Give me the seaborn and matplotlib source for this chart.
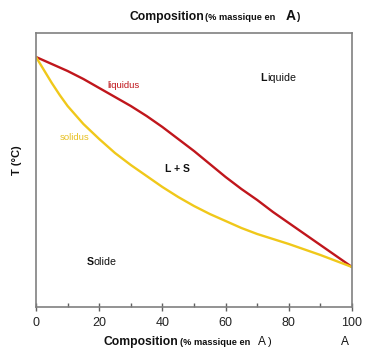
#!/usr/bin/env python3
import matplotlib
matplotlib.use('Agg')
import matplotlib.pyplot as plt
import pandas as pd
import seaborn as sns
from matplotlib.ticker import MultipleLocator

sns.set_theme(style='white')
plt.rcParams['font.family'] = ['Liberation Sans', 'DejaVu Sans']

# Composition (% massique en A) and temperature (arbitrary units)
liquidus_x = [0, 5, 10, 15, 20, 25, 30, 35, 40, 45, 50,
              55, 60, 65, 70, 75, 80, 85, 90, 95, 100]
liquidus_t = [250, 243, 236, 228, 219, 210, 201, 191, 180, 168, 156,
              143, 130, 118, 107, 95, 84, 73, 62, 51, 40]
solidus_x = [0, 2.5, 5, 7.5, 10, 15, 20, 25, 30, 35, 40, 45, 50,
             55, 60, 65, 70, 75, 80, 85, 90, 95, 100]
solidus_t = [250, 237, 224, 212, 201, 183, 168, 154, 142, 131, 120, 110, 101,
             93, 86, 79, 73, 68, 63, 57.5, 52, 46, 40]
x_ticks = [0, 20, 40, 60, 80, 100]

df = pd.concat([
    pd.DataFrame({'x': liquidus_x, 't': liquidus_t, 'courbe': 'liquidus'}),
    pd.DataFrame({'x': solidus_x, 't': solidus_t, 'courbe': 'solidus'}),
])
colors = {'liquidus': '#c0161c', 'solidus': '#f0c81a'}

W, H = 375, 357
fig = plt.figure(figsize=(3.75, 3.57), dpi=100)
ax = fig.add_axes([36 / W, 1 - 307 / H, 316 / W, 274 / H])

sns.lineplot(data=df, x='x', y='t', hue='courbe', palette=colors,
             linewidth=1.7, legend=False, ax=ax, sort=False)

ax.set_xlim(0, 100)
ax.set_ylim(0, 274)
ax.set_xlabel('')
ax.set_ylabel('')
ax.set_yticks([])
ax.set_xticks(x_ticks)
ax.xaxis.set_minor_locator(MultipleLocator(10))
ax.tick_params(axis='x', which='major', direction='inout', length=6,
               width=1, color='#606060', labelsize=9, pad=4,
               labelcolor='#222222', bottom=True)
ax.tick_params(axis='x', which='minor', direction='in', length=3,
               width=1, color='#606060', bottom=True)
for s in ax.spines.values():
    s.set_color('#808080')
    s.set_linewidth(1.2)

# labels inside the diagram
ax.text(27.8, 222, 'liquidus', color='#c0161c', fontsize=6.8,
        ha='center', va='center')
ax.text(12.3, 170, 'solidus', color='#e8c020', fontsize=6.8,
        ha='center', va='center')
ax.text(44.8, 138, 'L + S', fontsize=7.5, fontweight='bold',
        ha='center', va='center', color='#111111')
ax.text(70.9, 229, 'L', fontsize=7.7, fontweight='bold', ha='left',
        va='center', color='#111111')
ax.text(73.1, 229, 'iquide', fontsize=7.7, ha='left', va='center',
        color='#111111')
ax.text(16.1, 45, 'S', fontsize=7.7, fontweight='bold', ha='left',
        va='center', color='#111111')
ax.text(18.2, 45, 'olide', fontsize=7.7, ha='left', va='center',
        color='#111111')


def ftext(px, py, s, **kw):
    fig.text(px / W, 1 - py / H, s, ha='left', va='baseline',
             color='#111111', **kw)


# top title
ftext(130, 20, 'Composition', fontsize=8.7, fontweight='bold')
ftext(205, 20, '(% massique en', fontsize=6.7, fontweight='bold')
ftext(286, 20, 'A', fontsize=10, fontweight='bold')
ftext(296, 20, ')', fontsize=7.5, fontweight='bold')

# bottom label
ftext(103, 345, 'Composition', fontsize=8.7, fontweight='bold')
ftext(180, 345, '(% massique en', fontsize=6.7, fontweight='bold')
ftext(258, 345, 'A', fontsize=8.6)
ftext(268, 345, ')', fontsize=8)
ftext(341, 345, 'A', fontsize=8.6)

fig.text(17 / W, 1 - 160 / H, 'T (°C)', rotation=90, fontsize=8,
         fontweight='bold', ha='center', va='center', color='#111111')

fig.savefig('out.png', dpi=100, facecolor='white')
